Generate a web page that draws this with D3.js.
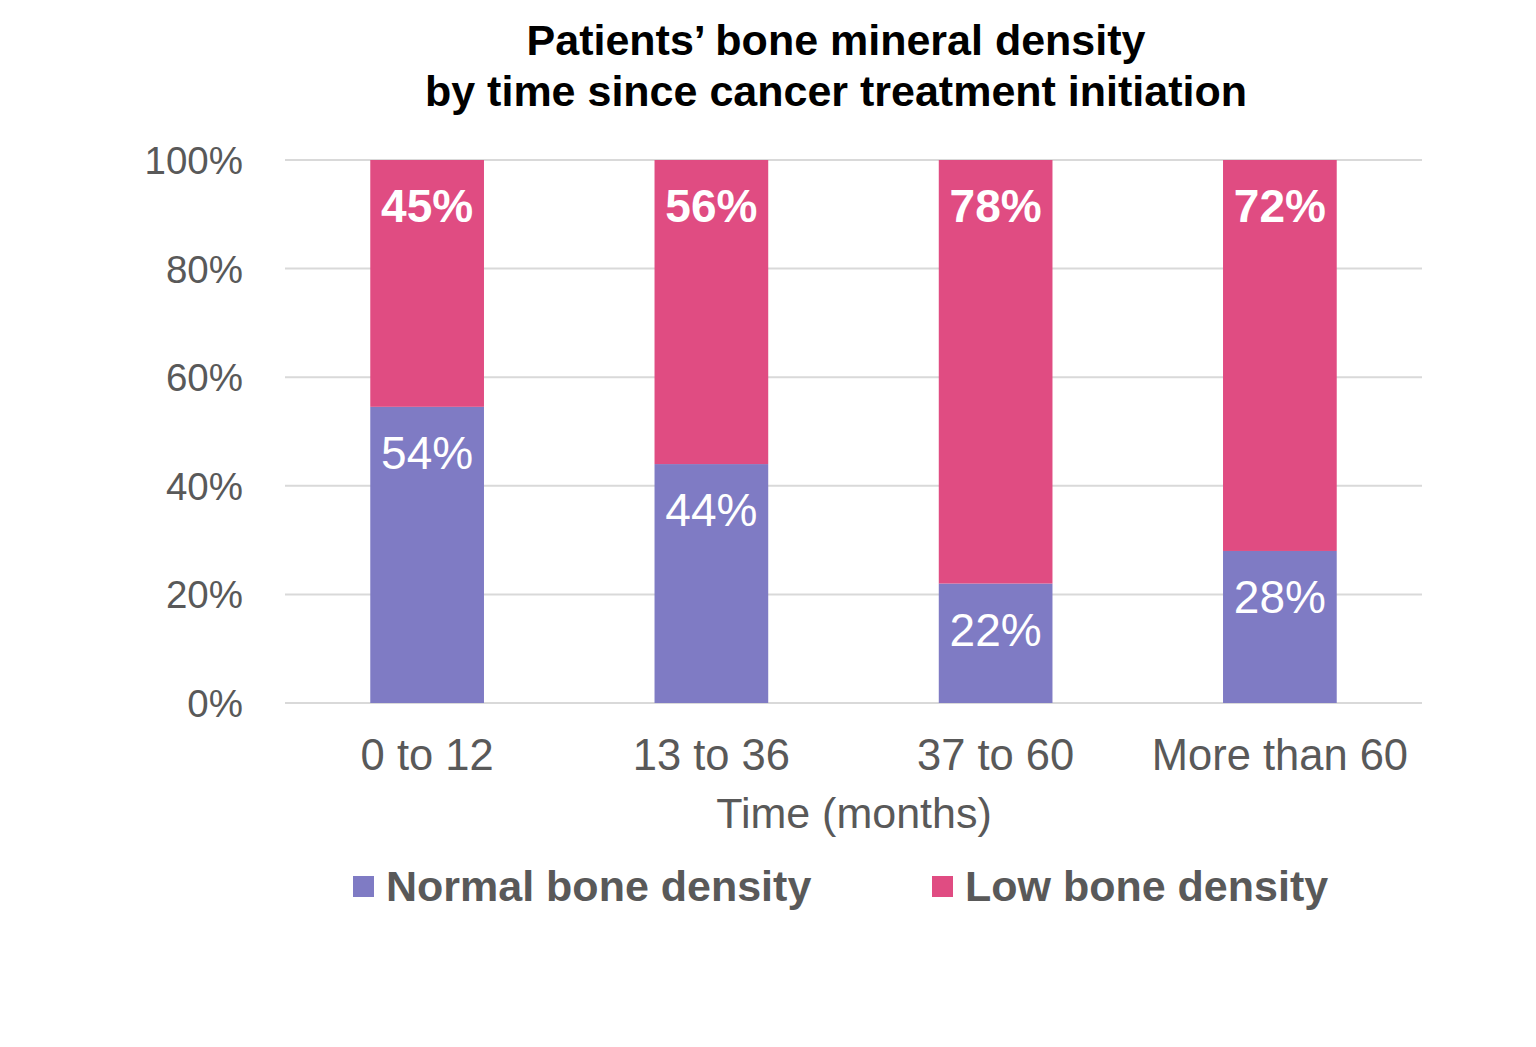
<!DOCTYPE html>
<html>
<head>
<meta charset="utf-8">
<script src="https://cdn.jsdelivr.net/npm/d3@7"></script>
<style>
  body { margin: 0; background: #fff; }
  svg { font-family: "Liberation Sans", Arial, sans-serif; }
</style>
</head>
<body>
<svg id="chart"></svg>
<script>
// DATA
const categories = ["0 to 12", "13 to 36", "37 to 60", "More than 60"];
const normalValues = [54, 44, 22, 28];
const lowValues = [45, 56, 78, 72];
const seriesNames = ["Normal bone density", "Low bone density"];
const yTicks = [0, 0.2, 0.4, 0.6, 0.8, 1];

const colors = ["#7F7BC4", "#E04C82"];
const textColor = "#595959";

const W = 1536, H = 1047;
const plot = { left: 285, right: 1422, top: 160, bottom: 703 };

const svg = d3.select("#chart")
  .attr("width", W)
  .attr("height", H);

// build rows and normalise to 100% (stacked percent chart)
const rows = categories.map((c, i) => ({
  cat: c,
  normal: normalValues[i],
  low: lowValues[i]
}));

const stack = d3.stack()
  .keys(["normal", "low"])
  .offset(d3.stackOffsetExpand);
const series = stack(rows);

// SCALES
const x = d3.scaleBand()
  .domain(categories)
  .range([plot.left, plot.right])
  .paddingInner(0.6)
  .paddingOuter(0.3);

const y = d3.scaleLinear()
  .domain([0, 1])
  .range([plot.bottom, plot.top]);

// GRIDLINES
svg.append("g")
  .selectAll("line")
  .data(yTicks)
  .enter()
  .append("line")
  .attr("x1", plot.left)
  .attr("x2", plot.right)
  .attr("y1", d => y(d))
  .attr("y2", d => y(d))
  .attr("stroke", "#d9d9d9")
  .attr("stroke-width", 2);

// Y AXIS
const yAxis = d3.axisLeft(y)
  .tickValues(yTicks)
  .tickFormat(d3.format(".0%"))
  .tickSize(0)
  .tickPadding(0);

const yg = svg.append("g")
  .attr("transform", `translate(243, 0)`)
  .call(yAxis);
yg.select(".domain").remove();
yg.selectAll("text")
  .attr("fill", textColor)
  .style("font-size", "38.5px")
  .attr("dy", "0.35em");

// X AXIS
const xAxis = d3.axisBottom(x).tickSize(0).tickPadding(0);
const xg = svg.append("g")
  .attr("transform", `translate(0, ${plot.bottom})`)
  .call(xAxis);
xg.select(".domain").remove();
xg.selectAll("text")
  .attr("fill", textColor)
  .style("font-size", "43.5px")
  .attr("y", 67)
  .attr("dy", 0);

// BARS
const groups = svg.selectAll("g.series")
  .data(series)
  .enter()
  .append("g")
  .attr("class", "series")
  .attr("fill", (d, i) => colors[i]);

groups.selectAll("rect")
  .data(d => d)
  .enter()
  .append("rect")
  .attr("x", d => x(d.data.cat))
  .attr("y", d => y(d[1]))
  .attr("width", x.bandwidth())
  .attr("height", d => y(d[0]) - y(d[1]));

// BAR LABELS
groups.each(function(s, si) {
  d3.select(this).selectAll("text")
    .data(s)
    .enter()
    .append("text")
    .attr("x", d => x(d.data.cat) + x.bandwidth() / 2)
    .attr("y", d => y(d[1]) + 62)
    .attr("text-anchor", "middle")
    .attr("fill", "#fff")
    .style("font-size", "46px")
    .style("font-weight", si === 1 ? "bold" : "normal")
    .text(d => (si === 0 ? d.data.normal : d.data.low) + "%");
});

// TITLE
const title = svg.append("text")
  .attr("x", 836)
  .attr("text-anchor", "middle")
  .style("font-size", "43px")
  .style("font-weight", "bold")
  .attr("fill", "#000");
title.append("tspan").attr("x", 836).attr("y", 55).text("Patients\u2019 bone mineral density");
title.append("tspan").attr("x", 836).attr("y", 106).text("by time since cancer treatment initiation");

// AXIS TITLE
svg.append("text")
  .attr("x", 854)
  .attr("y", 828)
  .attr("text-anchor", "middle")
  .attr("fill", textColor)
  .style("font-size", "43px")
  .text("Time (months)");

// LEGEND
const legendX = [353, 932];
const legend = svg.selectAll("g.legend")
  .data(seriesNames)
  .enter()
  .append("g")
  .attr("class", "legend")
  .attr("transform", (d, i) => `translate(${legendX[i]}, 876)`);

legend.append("rect")
  .attr("width", 21)
  .attr("height", 21)
  .attr("fill", (d, i) => colors[i]);

legend.append("text")
  .attr("x", 33)
  .attr("y", 25)
  .attr("fill", textColor)
  .style("font-size", "43px")
  .style("font-weight", "bold")
  .text(d => d);
</script>
</body>
</html>
